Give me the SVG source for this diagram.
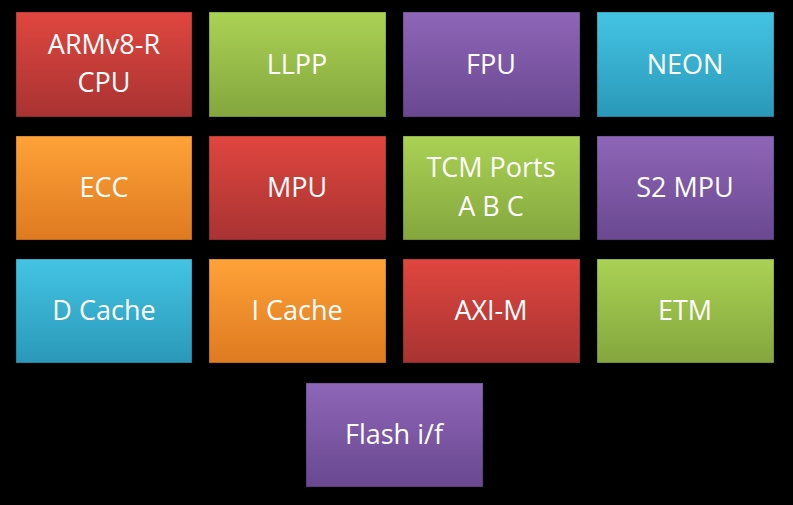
<svg xmlns="http://www.w3.org/2000/svg" width="793" height="505" viewBox="0 0 793 505">
<defs>
<linearGradient id="r" x1="0" y1="0" x2="0" y2="1"><stop offset="0" stop-color="#e0463f"/><stop offset="1" stop-color="#a83332"/></linearGradient>
<linearGradient id="g" x1="0" y1="0" x2="0" y2="1"><stop offset="0" stop-color="#aad254"/><stop offset="1" stop-color="#84a63e"/></linearGradient>
<linearGradient id="p" x1="0" y1="0" x2="0" y2="1"><stop offset="0" stop-color="#8e66b8"/><stop offset="1" stop-color="#6a4890"/></linearGradient>
<linearGradient id="b" x1="0" y1="0" x2="0" y2="1"><stop offset="0" stop-color="#44c4e4"/><stop offset="1" stop-color="#2a98b8"/></linearGradient>
<linearGradient id="o" x1="0" y1="0" x2="0" y2="1"><stop offset="0" stop-color="#ffa238"/><stop offset="1" stop-color="#de7a20"/></linearGradient>
</defs>
<style>
rect{stroke:#000;stroke-opacity:0.3;stroke-width:1}
text{font-family:"Open Sans","Liberation Sans",sans-serif;font-size:27px;fill:#fff;text-anchor:middle}
</style>
<rect x="0" y="0" width="793" height="505" fill="#000" style="stroke:none"/>
<g id="n1"><rect x="16" y="12" width="176" height="105" fill="url(#r)"/><text x="104" y="54">ARMv8-R</text><text x="104" y="92">CPU</text></g>
<g id="n2"><rect x="209" y="12" width="177" height="105" fill="url(#g)"/><text x="297" y="74">LLPP</text></g>
<g id="n3"><rect x="403" y="12" width="177" height="105" fill="url(#p)"/><text x="491" y="74">FPU</text></g>
<g id="n4"><rect x="597" y="12" width="177" height="105" fill="url(#b)"/><text x="685" y="74">NEON</text></g>
<g id="n5"><rect x="16" y="136" width="176" height="104" fill="url(#o)"/><text x="104" y="197">ECC</text></g>
<g id="n6"><rect x="209" y="136" width="177" height="104" fill="url(#r)"/><text x="297" y="197">MPU</text></g>
<g id="n7"><rect x="403" y="136" width="177" height="104" fill="url(#g)"/><text x="491" y="177">TCM Ports</text><text x="491" y="216">A B C</text></g>
<g id="n8"><rect x="597" y="136" width="177" height="104" fill="url(#p)"/><text x="685" y="197">S2 MPU</text></g>
<g id="n9"><rect x="16" y="259" width="176" height="104" fill="url(#b)"/><text x="104" y="320">D Cache</text></g>
<g id="n10"><rect x="209" y="259" width="177" height="104" fill="url(#o)"/><text x="297" y="320">I Cache</text></g>
<g id="n11"><rect x="403" y="259" width="177" height="104" fill="url(#r)"/><text x="491" y="320">AXI-M</text></g>
<g id="n12"><rect x="597" y="259" width="177" height="104" fill="url(#g)"/><text x="685" y="320">ETM</text></g>
<g id="n13"><rect x="306" y="383" width="177" height="104" fill="url(#p)"/><text x="394" y="444">Flash i/f</text></g>
<g id="connectors"/>
</svg>
